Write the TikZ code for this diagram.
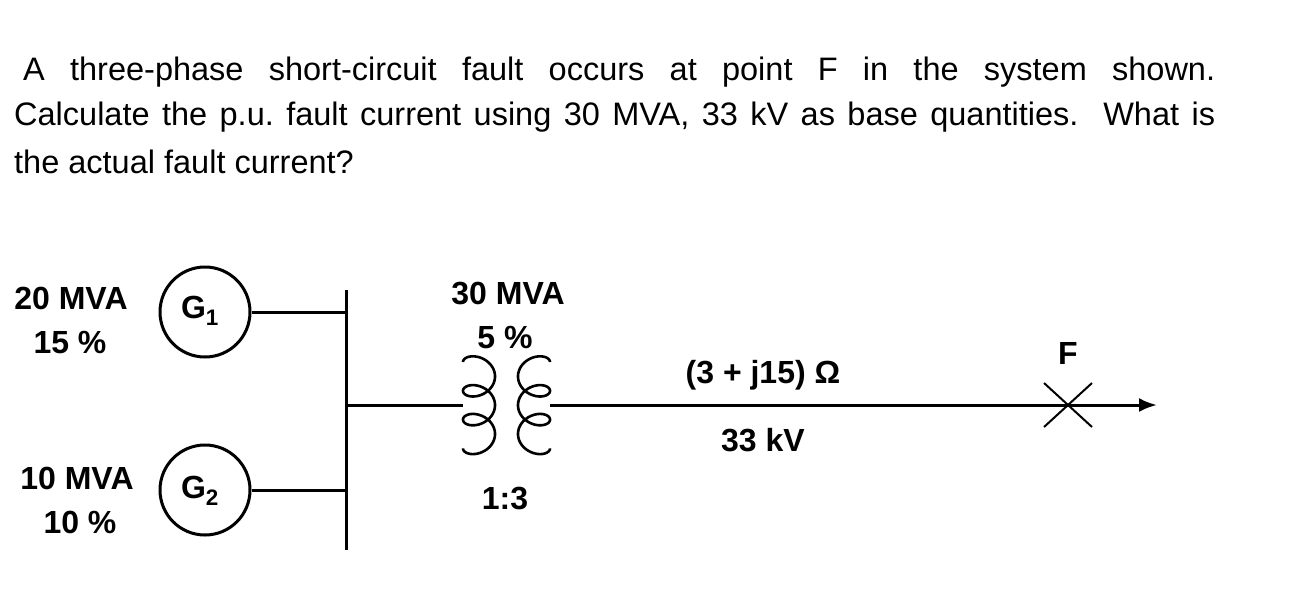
\documentclass[tikz,border=0pt]{standalone}
\usepackage{fontspec}
\setmainfont{Liberation Sans}
\usetikzlibrary{arrows.meta,calc}
\begin{document}
\begin{tikzpicture}[x=1pt,y=-1pt,
  txt/.style={font=\fontsize{32.5}{36}\selectfont, inner sep=0pt},
  lbl/.style={font=\bfseries\fontsize{32}{36}\selectfont, inner sep=0pt},
  wire/.style={line width=3pt},
  gen/.style={circle, draw, line width=3pt, minimum size=90pt, inner sep=0pt}]
\useasboundingbox (0,0) rectangle (1292,598);
\node[txt, anchor=west] (t1) at (23,72) {\makebox[1192pt][s]{A three-phase short-circuit fault occurs at point F in the system shown.}};
\node[txt, anchor=west] (t2) at (14,117) {\makebox[1201pt][s]{Calculate the p.u.\ fault current using 30 MVA, 33 kV as base quantities.\ \ What is}};
\node[txt, anchor=west] (t3) at (14,162) {the actual fault current?};
\node[gen] (g1) at (205,312) {};
\node[gen] (g2) at (205,490) {};
\node[lbl] at (200,311) {G\textsubscript{1}};
\node[lbl] at (200,491) {G\textsubscript{2}};
\node[lbl] at (71,298) {20 MVA};
\node[lbl] at (70,343) {15 \%};
\node[lbl] at (77,478) {10 MVA};
\node[lbl] at (80,522) {10 \%};
\coordinate (btop) at (346,290);
\coordinate (bbot) at (346,550);
\draw[wire] (btop) -- (bbot);
\draw[wire] (g1.east) -- (g1.east -| btop);
\draw[wire] (g2.east) -- (g2.east -| btop);
\coordinate (bmid) at (346,405);
\coordinate (c1) at (463,405);
\coordinate (c2) at (550,405);
\coordinate (arr) at (1157,405);
\draw[wire] (bmid) -- (c1);
\draw[line width=2.6pt] plot[smooth,domain=0:1080,samples=240] ({479-16*cos(\x)},{362+0.08*\x-12*sin(\x)});
\draw[line width=2.6pt] plot[smooth,domain=0:1080,samples=240] ({534+16*cos(\x)},{362+0.08*\x-12*sin(\x)});
\draw[wire,-{Latex[length=18pt,width=14pt]}] (c2) -- (arr);
\coordinate (F) at (1068,405);
\draw[line width=2pt] ($(F)+(-24,-22)$) -- ($(F)+(24,22)$) ($(F)+(-24,22)$) -- ($(F)+(24,-22)$);
\node[lbl] at (1068,353) {F};
\node[lbl] at (508,293) {30 MVA};
\node[lbl] at (505,338) {5 \%};
\node[lbl] at (505,498) {1:3};
\node[lbl] at (763,375) {(3 + j15) Ω};
\node[lbl] at (763,440) {33 kV};
\end{tikzpicture}
\end{document}
